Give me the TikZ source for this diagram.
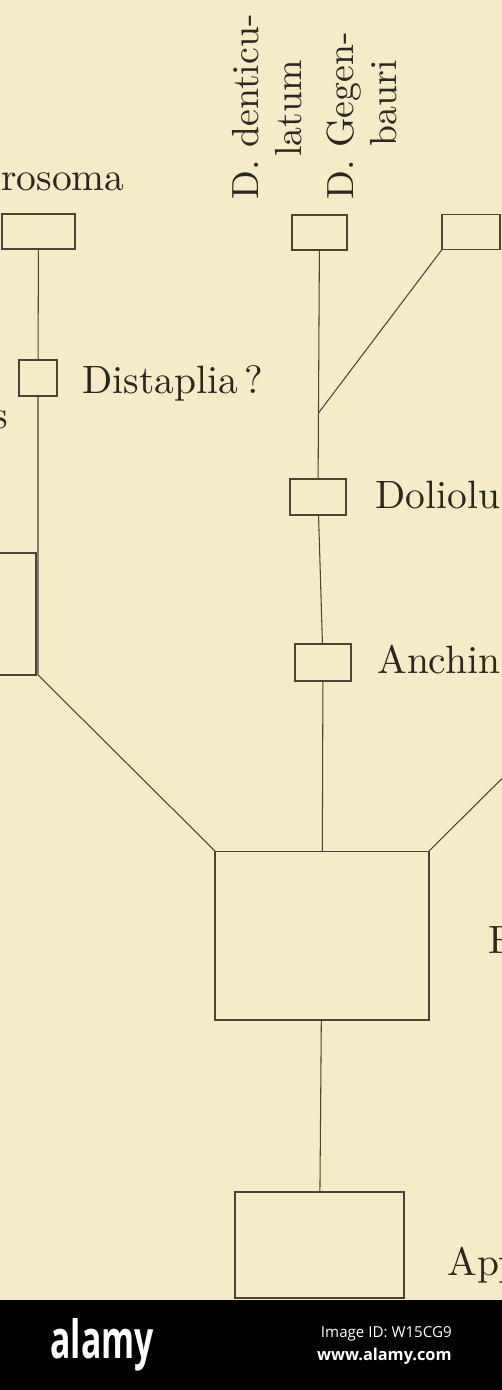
\documentclass[tikz,border=0pt]{standalone}
\usepackage{tikz}
\usetikzlibrary{positioning}
\usepackage{xcolor}
\usepackage{fontspec}
\newfontfamily\oldface{lmroman10-regular}[Extension=.otf]
\newfontfamily\bannerfont{Open Sans}
\newfontfamily\logofont[FakeStretch=0.64]{Open Sans}
\definecolor{paper}{HTML}{F5EBC6}
\definecolor{ink}{HTML}{4A4434}
\definecolor{print}{HTML}{2B271F}
\tikzset{
  cell/.style={draw=ink,line width=0.6pt,inner sep=0pt,outer sep=0pt},
  twig/.style={draw=ink,line width=0.6pt},
  taxon/.style={text=print,inner sep=0pt,font=\oldface\fontsize{22.5}{27}\selectfont},
  upright/.style={taxon,rotate=90,anchor=south west,align=left,font=\oldface\fontsize{21.5}{24.5}\selectfont}
}

\begin{document}
\begin{tikzpicture}[x=0.02cm,y=-0.02cm]
\useasboundingbox (0,0) rectangle (502,1390);
\fill [paper] (0,0) rectangle (502,1390);
% boxes of the tree
\path
  (38.5,231.5) node [cell,minimum width=1.46cm,minimum height=0.7cm] (pyro) {}
  (38,378) node [cell,minimum width=0.76cm,minimum height=0.72cm] (dist) {}
  (-2,614) node [cell,minimum width=1.52cm,minimum height=2.44cm] (lbox) {}
  (319.5,232.5) node [cell,minimum width=1.1cm,minimum height=0.7cm] (dent) {}
  (471,232) node [cell,minimum width=1.16cm,minimum height=0.7cm] (gegen) {}
  (318,497) node [cell,minimum width=1.12cm,minimum height=0.72cm] (dol) {}
  (323,662.5) node [cell,minimum width=1.12cm,minimum height=0.74cm] (anch) {}
  (322,935.5) node [cell,minimum width=4.28cm,minimum height=3.38cm] (stem) {}
  (319.5,1245) node [cell,minimum width=3.38cm,minimum height=2.12cm] (app) {};
% names
\path
  (1,190) node [taxon,anchor=base west] (pyrol) {rosoma}
  (8,428) node [taxon,anchor=base east] (ls) {s}
  (82,393) node [taxon,anchor=base west] (distl) {Distaplia\,?}
  (375,508) node [taxon,anchor=base west] (doll) {Doliolu}
  (377,673) node [taxon,anchor=base west] (anchl) {Anchin}
  (488,953) node [taxon,anchor=base west] (steml) {F}
  (447,1275) node [taxon,anchor=base west] (appl) {App}
  (302,200) node [upright] (dentl) {D. denticu-\\\hspace*{0.86cm}latum}
  (397,200) node [upright] (gegenl) {D. Gegen-\\\hspace*{1.06cm}bauri};
% branches
\coordinate (fork) at (318.5,413);
\coordinate (fout) at (560,721);
\draw [twig] (pyro) -- (dist);
\draw [twig] (dist.south) -- (dist.south |- lbox.south) -- (stem.north west);
\draw [twig] (dent) -- (dol);
\draw [twig] (gegen.south west) -- (fork);
\draw [twig] (dol) -- (anch);
\draw [twig] (anch) -- (stem);
\draw [twig] (stem.north east) -- (fout);
\draw [twig] (stem) -- (app);
% banner
\fill [black] (0,1300) rectangle (502,1390);
\path
  (50,1358) node [white,anchor=base west,inner sep=0pt,font=\logofont\bfseries\fontsize{30}{34}\selectfont] (logo) {alamy}
  (452,1337) node [white,anchor=base east,inner sep=0pt,font=\bannerfont\fontsize{8.6}{10}\selectfont] (imgid) {Image ID: W15CG9}
  (452,1360) node [white,anchor=base east,inner sep=0pt,font=\bannerfont\bfseries\fontsize{9.3}{11}\selectfont] (site) {www.alamy.com};
\end{tikzpicture}
\end{document}
